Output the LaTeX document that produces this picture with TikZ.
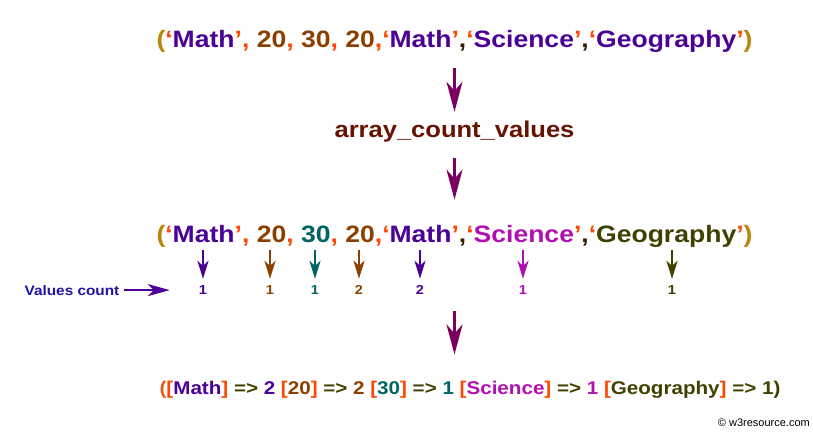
\documentclass[tikz,border=0pt]{standalone}
\usepackage{fontspec}
\setmainfont{Liberation Sans}
\newfontfamily\widesans[FakeStretch=1.12]{Liberation Sans}
\usetikzlibrary{arrows.meta}

\definecolor{goldc}{RGB}{184,134,11}
\definecolor{quotec}{RGB}{255,69,0}
\definecolor{darkc}{RGB}{50,30,0}
\definecolor{mathc}{RGB}{75,0,150}
\definecolor{brownc}{RGB}{139,64,0}
\definecolor{tealc}{RGB}{0,100,100}
\definecolor{magc}{RGB}{176,16,176}
\definecolor{olivec}{RGB}{64,64,0}
\definecolor{parenc}{RGB}{220,90,30}
\definecolor{arrowc}{RGB}{122,0,96}
\definecolor{funcc}{RGB}{100,20,0}
\definecolor{countc}{RGB}{30,20,160}

\tikzset{
    listtext/.style={font=\widesans\bfseries\fontsize{23.7}{28}\selectfont, anchor=base, inner sep=0pt},
    functext/.style={font=\widesans\bfseries\fontsize{22.8}{27}\selectfont, anchor=base, inner sep=0pt, text=funcc},
    resulttext/.style={font=\widesans\bfseries\fontsize{18.4}{22}\selectfont, anchor=base, inner sep=0pt},
    numtext/.style={font=\widesans\bfseries\fontsize{13}{15}\selectfont, anchor=base, inner sep=0pt},
    bigarrow/.style={draw=arrowc, line width=3pt, -{Stealth[length=30pt,width=16pt,inset=9pt]}},
    smallarrow/.style={line width=2.5pt, -{Stealth[length=18pt,width=11pt,inset=5pt]}}
}

\begin{document}
\begin{tikzpicture}[x=1pt,y=-1pt]
    \useasboundingbox (0,0) rectangle (813,432);

    % Input array
    \node [listtext] (src) at (454.5,47) {\textcolor{goldc}{(}\textcolor{quotec}{‘}\textcolor{mathc}{Math}\textcolor{quotec}{’, }\textcolor{brownc}{20}\textcolor{quotec}{, }\textcolor{brownc}{30}\textcolor{quotec}{, }\textcolor{brownc}{20}\textcolor{quotec}{,‘}\textcolor{mathc}{Math}\textcolor{quotec}{’}\textcolor{darkc}{,}\textcolor{quotec}{‘}\textcolor{mathc}{Science}\textcolor{quotec}{’}\textcolor{darkc}{,}\textcolor{quotec}{‘}\textcolor{mathc}{Geography}\textcolor{quotec}{’}\textcolor{goldc}{)}};

    % Function
    \node [functext] (fn) at (454.5,137) {array\_count\_values};
    \draw [bigarrow, shorten <=16pt, shorten >=8.5pt] (src.south) -- (src.south |- fn.north);

    % Same array, coloured by value
    \node [listtext] (arr) at (454.5,242) {\textcolor{goldc}{(}\textcolor{quotec}{‘}\textcolor{mathc}{Math}\textcolor{quotec}{’, }\textcolor{brownc}{20}\textcolor{quotec}{, }\textcolor{tealc}{30}\textcolor{quotec}{, }\textcolor{brownc}{20}\textcolor{quotec}{,‘}\textcolor{mathc}{Math}\textcolor{quotec}{’}\textcolor{darkc}{,}\textcolor{quotec}{‘}\textcolor{magc}{Science}\textcolor{quotec}{’}\textcolor{darkc}{,}\textcolor{quotec}{‘}\textcolor{olivec}{Geography}\textcolor{quotec}{’}\textcolor{goldc}{)}};
    \draw [bigarrow, shorten <=16pt, shorten >=25pt] (fn.south) -- (fn.south |- arr.north);

    % Counts under each value
    \node [numtext, text=mathc] (n1) at (203,294) {1};
    \node [numtext, text=brownc] (n2) at (270,294) {1};
    \node [numtext, text=tealc] (n3) at (315,294) {1};
    \node [numtext, text=brownc] (n4) at (359,294) {2};
    \node [numtext, text=mathc] (n5) at (420,294) {2};
    \node [numtext, text=magc] (n6) at (523,294) {1};
    \node [numtext, text=olivec] (n7) at (672,294) {1};
    \coordinate (t1) at (203,250);
    \coordinate (t2) at (270,250);
    \coordinate (t3) at (315,250);
    \coordinate (t4) at (359,250);
    \coordinate (t5) at (420,250);
    \coordinate (t6) at (523,250);
    \coordinate (t7) at (672,250);
    \draw [smallarrow, mathc, shorten >=6pt] (t1) -- (n1);
    \draw [smallarrow, brownc, shorten >=6pt] (t2) -- (n2);
    \draw [smallarrow, tealc, shorten >=6pt] (t3) -- (n3);
    \draw [smallarrow, brownc, shorten >=6pt] (t4) -- (n4);
    \draw [smallarrow, mathc, shorten >=6pt] (t5) -- (n5);
    \draw [smallarrow, magc, shorten >=6pt] (t6) -- (n6);
    \draw [smallarrow, olivec, shorten >=6pt] (t7) -- (n7);

    % Label
    \node [font=\widesans\bfseries\fontsize{13.7}{16}\selectfont, anchor=base, inner sep=0pt, text=countc] (vc) at (72,295) {Values count};
    \draw [smallarrow, mathc, -{Stealth[length=22pt,width=12pt,inset=6pt]}, shorten <=4pt, shorten >=29pt] (vc.east) -- (vc.east -| n1.west);

    % Result
    \node [resulttext] (res) at (470,394) {\textcolor{parenc}{(}\textcolor{quotec}{[}\textcolor{mathc}{Math}\textcolor{quotec}{]} \textcolor{olivec}{=>} \textcolor{mathc}{2} \textcolor{quotec}{[}\textcolor{brownc}{20}\textcolor{quotec}{]} \textcolor{olivec}{=>} \textcolor{brownc}{2} \textcolor{quotec}{[}\textcolor{tealc}{30}\textcolor{quotec}{]} \textcolor{olivec}{=>} \textcolor{tealc}{1} \textcolor{quotec}{[}\textcolor{magc}{Science}\textcolor{quotec}{]} \textcolor{olivec}{=>} \textcolor{magc}{1} \textcolor{quotec}{[}\textcolor{olivec}{Geography}\textcolor{quotec}{]} \textcolor{olivec}{=> 1)}};
    \draw [bigarrow, shorten <=64pt, shorten >=26pt] (arr.south) -- (arr.south |- res.north);

    % Watermark
    \node [font=\fontsize{11}{13}\selectfont, anchor=base east, inner sep=0pt] (wm) at (810,426) {© w3resource.com};
\end{tikzpicture}
\end{document}
